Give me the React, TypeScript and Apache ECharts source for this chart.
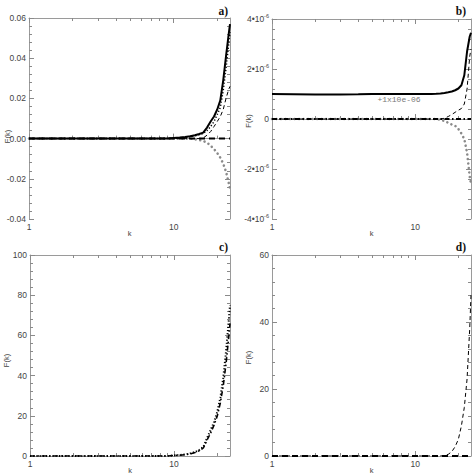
import { useEffect, useRef } from "react";
import * as echarts from "echarts";

// wavenumbers shared by every curve
const K = [1, 2, 3, 4, 5, 6, 7, 8, 9, 10, 11, 12, 13, 14, 15, 16, 17, 18, 19, 20, 21, 22, 23, 24, 24.5];

const ZERO = [0, 0, 0, 0, 0, 0, 0, 0, 0, 0, 0, 0, 0, 0, 0, 0, 0, 0, 0, 0, 0, 0, 0, 0, 0];

// panel a)
const aSolid = [0, 0, 0, 0, 0, 0, 0, 0, 0, 0.0003, 0.0005, 0.0008, 0.0012, 0.0017, 0.0023, 0.003, 0.0055, 0.0085, 0.011, 0.0145, 0.019, 0.029, 0.041, 0.052, 0.057];
const aDotted = [0, 0, 0, 0, 0, 0, 0, 0, 0, 0.0002, 0.0004, 0.0006, 0.001, 0.0014, 0.0019, 0.0025, 0.004, 0.006, 0.0085, 0.012, 0.0155, 0.024, 0.035, 0.047, 0.053];
const aDashed = [0, 0, 0, 0, 0, 0, 0, 0, 0, 0, 0, 0, 0, 0, 0, 0.0003, 0.0017, 0.0035, 0.006, 0.0085, 0.011, 0.0145, 0.02, 0.0245, 0.026];
const aGrey = [0, 0, 0, 0, 0, 0, 0, 0, 0, 0, 0, 0, 0, -0.0003, -0.0007, -0.0012, -0.002, -0.0035, -0.0052, -0.0072, -0.0095, -0.0125, -0.0165, -0.022, -0.025];

// panel b), in units of 1e-6
const bSolid = [1.0, 0.98, 0.98, 0.99, 1.0, 1.0, 1.0, 1.0, 1.0, 1.0, 1.0, 1.0, 1.0, 1.01, 1.02, 1.04, 1.07, 1.1, 1.15, 1.22, 1.35, 1.75, 2.7, 3.3, 3.45];
const bDashed = [0, 0, 0, 0, 0, 0, 0, 0, 0, 0, 0, 0, 0, 0, 0, 0.03, 0.1, 0.18, 0.27, 0.35, 0.42, 0.6, 1.2, 2.5, 2.8];
const bGrey = [0, 0, 0, 0, 0, 0, 0, 0, 0, 0, 0, 0, 0, 0, -0.03, -0.08, -0.15, -0.22, -0.27, -0.4, -0.58, -0.8, -1.35, -2.3, -2.6];
const bNote = { k: 7.7, value: 0.78, text: "+1x10e-06" };

// panel c)
const cDotted = [0, 0, 0, 0, 0, 0, 0, 0, 0, 0.3, 0.5, 0.8, 1.3, 2.0, 3.0, 4.5, 9, 13, 17, 22, 29, 39, 52, 67, 75];
const cDashDot = [0, 0, 0, 0, 0, 0, 0, 0, 0, 0.25, 0.4, 0.7, 1.1, 1.7, 2.6, 4, 8, 11.5, 15.5, 20, 26.5, 35, 46, 59, 66];

// panel d)
const dDashed = [0, 0, 0, 0, 0, 0, 0, 0, 0, 0, 0, 0, 0, 0, 0, 0.1, 0.5, 1.3, 2.8, 5, 9, 14.5, 23, 38, 48];

const xMajor = [1, 10];
const xMinor = [2, 3, 4, 5, 6, 7, 8, 9, 20];

const FONT = "Liberation Sans, Arial, sans-serif";
const AXIS = "#9a9a9a";
const TICK = "#8a8a8a";
const TEXT = "#444";

const solid = { color: "#000", width: 2, type: "solid" };
const thinDash = { color: "#000", width: 1, type: [4, 3] };
const thickDash = { color: "#000", width: 2, type: [6, 4] };
const dotted = { color: "#000", width: 1.5, type: [1.2, 2] };
const dashDot = { color: "#000", width: 2, type: [5, 2.5, 1.5, 2.5] };
const greyDots = { color: "#8a8a8a", width: 2.6, type: [0.01, 4.5], cap: "round" };

type Curve = { values: number[]; style: any; note?: typeof bNote };
type Panel = {
  label: string;
  grid: { left: number; top: number; width: number; height: number };
  labelPos: { right: number; top: number };
  nameGap: number;
  // shifts F(k) down along the axis
  namePad: number;
  y: { min: number; max: number; interval: number; format: (v: number) => string };
  curves: Curve[];
};

const superTen = (v: number) => (v === 0 ? "0" : `{b|${v}•10}{s|-6}`);

const panels: Panel[] = [
  {
    label: "a)",
    grid: { left: 29, top: 18, width: 201, height: 201 },
    labelPos: { right: 241, top: 0 },
    nameGap: 18,
    namePad: 36,
    y: { min: -0.04, max: 0.06, interval: 0.02, format: (v) => v.toFixed(2) },
    curves: [
      { values: aGrey, style: greyDots },
      { values: aDashed, style: thinDash },
      { values: aDotted, style: dotted },
      { values: ZERO, style: thickDash },
      { values: aSolid, style: solid },
    ],
  },
  {
    label: "b)",
    grid: { left: 272, top: 19, width: 199, height: 200 },
    labelPos: { right: 3, top: 0 },
    nameGap: 20,
    namePad: 4,
    y: { min: -4, max: 4, interval: 2, format: superTen },
    curves: [
      { values: bGrey, style: greyDots },
      { values: bDashed, style: thinDash },
      { values: ZERO, style: dashDot },
      { values: bSolid, style: solid, note: bNote },
    ],
  },
  {
    label: "c)",
    grid: { left: 30, top: 255, width: 200, height: 201 },
    labelPos: { right: 241, top: 236 },
    nameGap: 20,
    namePad: 10,
    y: { min: 0, max: 100, interval: 20, format: (v) => String(v) },
    curves: [
      { values: cDashDot, style: { ...dashDot, width: 1.6 } },
      { values: cDotted, style: { ...dotted, width: 2 } },
    ],
  },
  {
    label: "d)",
    grid: { left: 272, top: 255, width: 199, height: 201 },
    labelPos: { right: 3, top: 236 },
    nameGap: 20,
    namePad: 4,
    y: { min: 0, max: 60, interval: 20, format: (v) => String(v) },
    curves: [
      { values: ZERO, style: thickDash },
      { values: dDashed, style: thinDash },
    ],
  },
];

function buildOption() {
  const grid: any[] = [];
  const xAxis: any[] = [];
  const yAxis: any[] = [];
  const series: any[] = [];
  const title: any[] = [];

  panels.forEach((p, i) => {
    grid.push({ ...p.grid, containLabel: false });
    title.push({
      text: p.label,
      ...p.labelPos,
      textStyle: { fontFamily: "Liberation Serif, serif", fontSize: 11.5, fontWeight: "bold", color: "#111" },
    });

    const xBase = {
      type: "log",
      logBase: 10,
      min: 1,
      max: 24.5,
      gridIndex: i,
      splitLine: { show: false },
      axisLine: { show: true, lineStyle: { color: AXIS, width: 1 } },
    };
    (["bottom", "top"] as const).forEach((position) => {
      const main = position === "bottom";
      xAxis.push({
        ...xBase,
        position,
        axisTick: { show: true, inside: true, length: 5, customValues: xMajor, lineStyle: { color: TICK } },
        axisLabel: {
          show: main,
          customValues: xMajor,
          fontFamily: FONT,
          fontSize: 8.5,
          color: TEXT,
          margin: 3,
        },
        name: main ? "k" : "",
        nameLocation: "middle",
        nameGap: 10,
        nameMoveOverlap: false,
        nameTextStyle: { fontFamily: FONT, fontSize: 7.5, color: TEXT },
      });
      xAxis.push({
        ...xBase,
        position,
        axisLine: { show: false },
        axisTick: { show: true, inside: true, length: 3, customValues: xMinor, lineStyle: { color: TICK } },
        axisLabel: { show: false },
      });
    });

    (["left", "right"] as const).forEach((position) => {
      const main = position === "left";
      yAxis.push({
        type: "value",
        gridIndex: i,
        position,
        min: p.y.min,
        max: p.y.max,
        interval: p.y.interval,
        splitLine: { show: false },
        axisLine: { show: true, lineStyle: { color: AXIS, width: 1 } },
        axisTick: { show: true, inside: true, length: 5, lineStyle: { color: TICK } },
        minorTick: { show: true, splitNumber: 5, length: 3, lineStyle: { color: TICK } },
        axisLabel: {
          show: main,
          formatter: p.y.format,
          fontFamily: FONT,
          fontSize: 8.5,
          color: TEXT,
          margin: 3,
          rich: {
            b: { fontFamily: FONT, fontSize: 8.5, color: TEXT },
            s: { fontFamily: FONT, fontSize: 5.5, color: TEXT, padding: [0, 0, 6, 0] },
          },
        },
        name: main ? "F(k)" : "",
        nameLocation: "middle",
        nameGap: p.nameGap,
        nameMoveOverlap: false,
        nameTextStyle: { fontFamily: FONT, fontSize: 7.5, color: TEXT, padding: [0, p.namePad, 0, 0] },
      });
    });

    p.curves.forEach((c) => {
      series.push({
        type: "line",
        xAxisIndex: i * 4,
        yAxisIndex: i * 2,
        data: K.map((k, j) => [k, c.values[j]]),
        showSymbol: false,
        symbol: "none",
        lineStyle: c.style,
        silent: true,
        markPoint: c.note
          ? {
              symbol: "circle",
              symbolSize: 0,
              silent: true,
              label: {
                show: true,
                position: "inside",
                formatter: c.note.text,
                fontFamily: "Liberation Mono, monospace",
                fontSize: 8,
                color: "#7a7a7a",
              },
              data: [{ coord: [c.note.k, c.note.value] }],
            }
          : undefined,
      });
    });
  });

  return { animation: false, backgroundColor: "#fff", title, grid, xAxis, yAxis, series };
}

export default function App() {
  const ref = useRef<HTMLDivElement | null>(null);

  useEffect(() => {
    if (!ref.current) {
      return;
    }
    const chart = echarts.init(ref.current, undefined, { renderer: "svg" });
    chart.setOption(buildOption());
    return () => chart.dispose();
  }, []);

  return <div ref={ref} style={{ position: "absolute", left: 0, top: 0, width: 474, height: 476 }} />;
}
